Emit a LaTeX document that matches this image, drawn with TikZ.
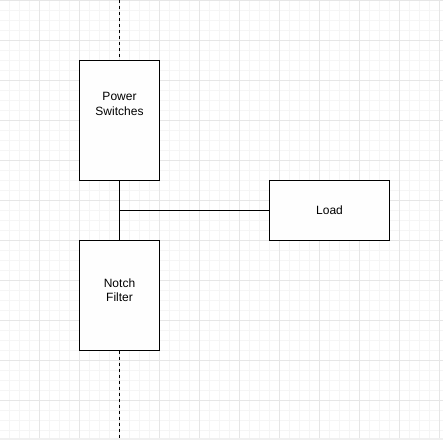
\documentclass[tikz,border=0pt]{standalone}
\usepackage{fontspec}
\setmainfont{Liberation Sans}
\usetikzlibrary{positioning}

\definecolor{gridminor}{RGB}{245,245,245}
\definecolor{gridmajor}{RGB}{230,230,230}
\definecolor{edgeband}{RGB}{240,240,240}
\definecolor{paper}{RGB}{254,254,254}

\tikzset{
  block/.style={draw, fill=paper, line width=1pt, minimum width=80pt, inner sep=0pt},
  caption/.style={align=center, inner sep=0pt, font=\fontsize{12}{14.5}\selectfont},
  wire/.style={line width=1pt},
  feed/.style={line width=1pt, dash pattern=on 3pt off 3pt}
}

\begin{document}
\begin{tikzpicture}[x=1pt,y=-1pt]
  \useasboundingbox (0,0) rectangle (443,440);

  % background grid, minor every 10, major every 40
  \foreach \gx in {9.5,19.5,...,439.5}
    \draw[gridminor, line width=1pt] (\gx,0) -- (\gx,438);
  \foreach \gy in {0.5,10.5,...,430.5}
    \draw[gridminor, line width=1pt] (0,\gy) -- (443,\gy);
  \foreach \gx in {39.5,79.5,...,439.5}
    \draw[gridmajor, line width=1pt] (\gx,0) -- (\gx,438);
  \foreach \gy in {0.5,40.5,...,400.5}
    \draw[gridmajor, line width=1pt] (0,\gy) -- (443,\gy);
  \fill[edgeband] (0,438) rectangle (443,440);

  % the three blocks
  \node[block, minimum height=120pt] (ps) at (119.5,120) {};
  \node[caption] (pstext) at (119.5,104) {Power\\Switches};
  \node[block, minimum height=110pt] (nf) at (119.5,295) {};
  \node[caption] (nftext) at (119.5,290) {Notch\\Filter};
  \node[block, minimum width=120pt, minimum height=60pt] (load) at (329.5,210) {};
  \node[caption] (loadtext) at (329.5,210) {Load};

  % supply line in and out
  \coordinate (top) at (119.5,0);
  \coordinate (bot) at (119.5,437.5);
  \draw[feed] (top) -- (ps.north);
  \draw[feed] (nf.south) -- (bot);

  % link between the blocks and the tap to the load
  \coordinate (tap) at (119.5,210);
  \draw[wire] (ps.south) -- (tap) -- (nf.north);
  \draw[wire] (tap) -- (load.west);
\end{tikzpicture}
\end{document}
